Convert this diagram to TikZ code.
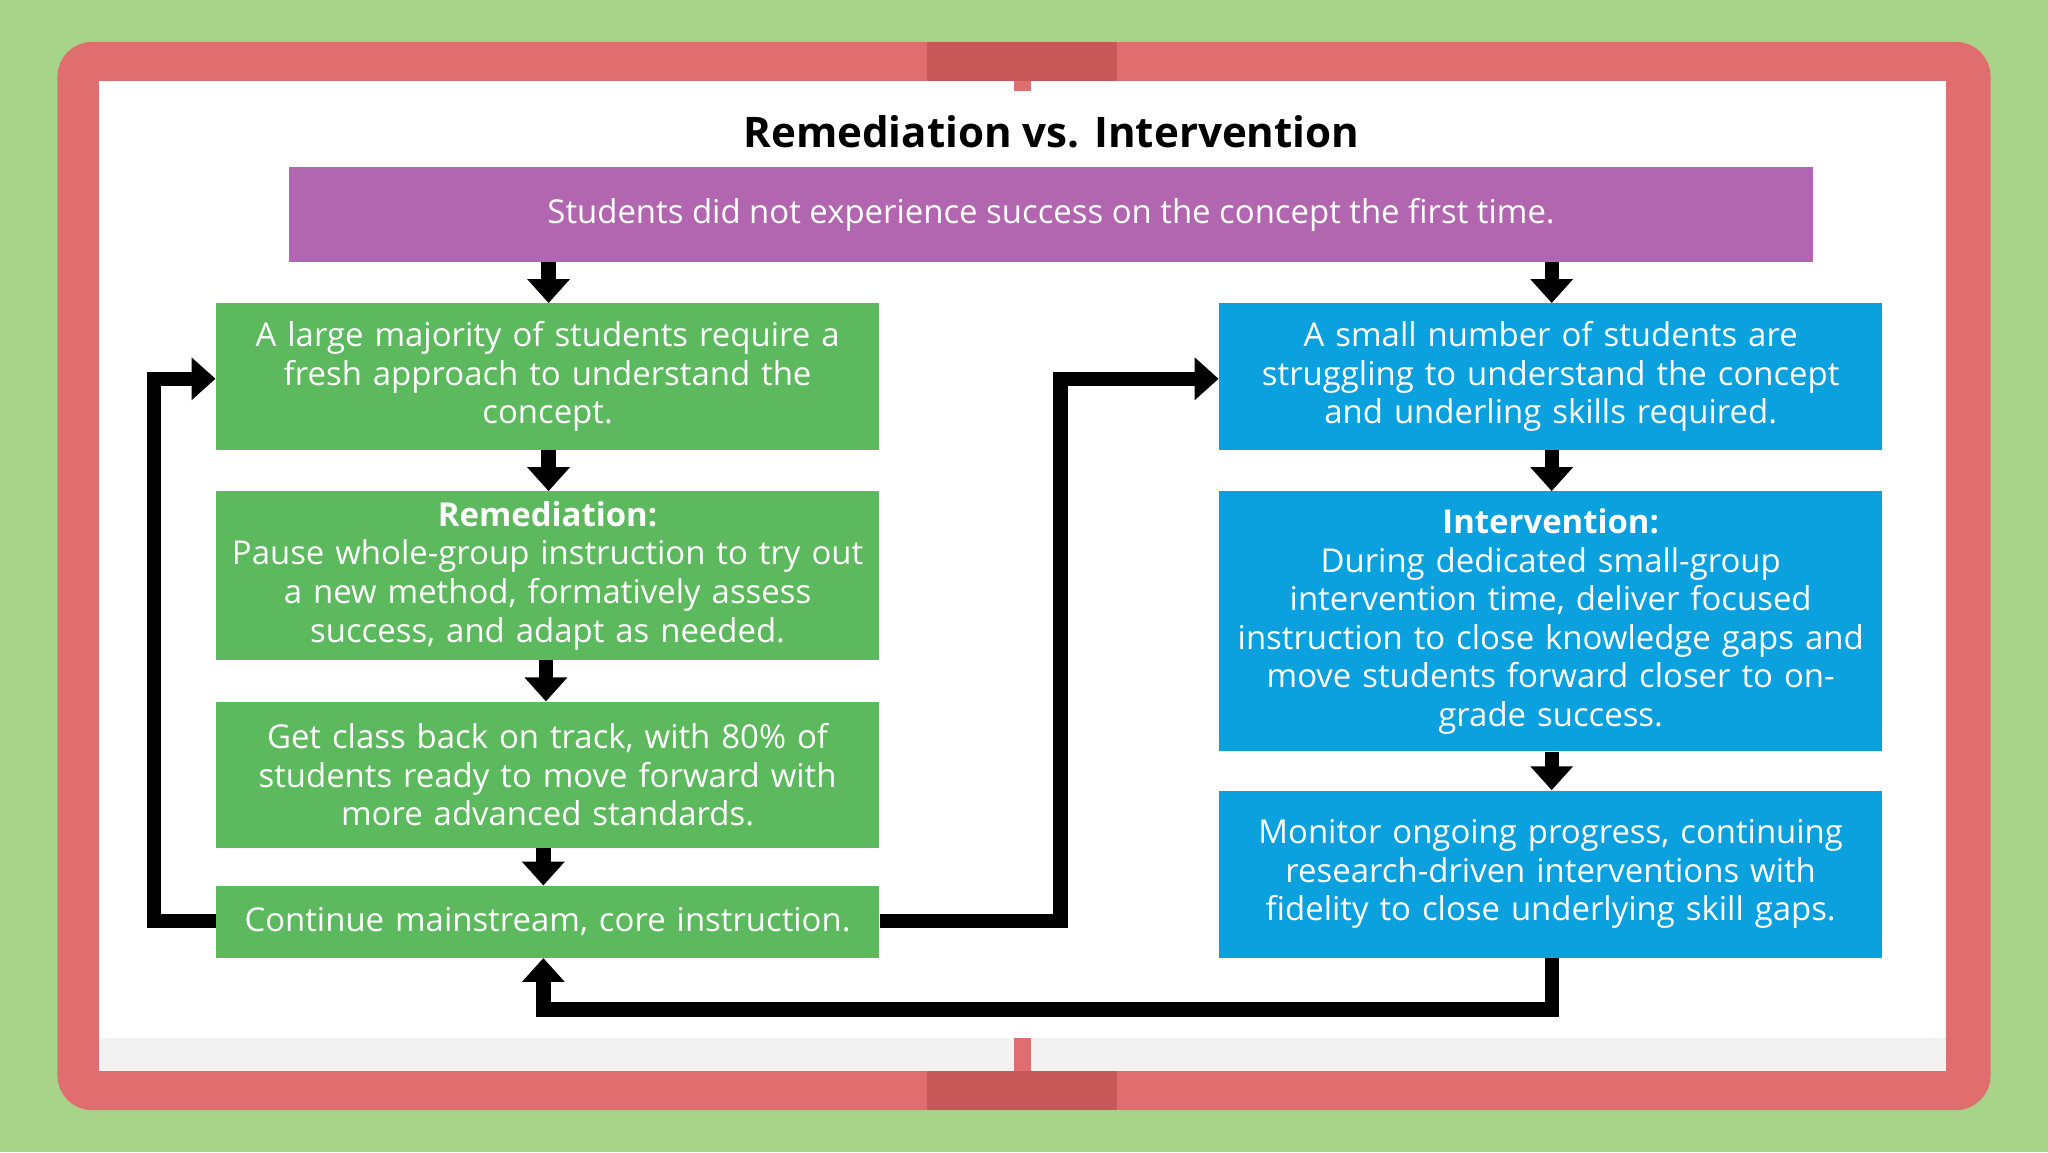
\documentclass[tikz,border=0pt]{standalone}
\usepackage{fontspec}
\setmainfont{Open Sans}
\usetikzlibrary{arrows.meta}
\definecolor{bg}{HTML}{A8D48A}
\definecolor{frame}{HTML}{E06E6E}
\definecolor{tab}{HTML}{C85858}
\definecolor{pur}{HTML}{B366B0}
\definecolor{grn}{HTML}{5DB95D}
\definecolor{blu}{HTML}{0BA0DE}
\begin{document}
\begin{tikzpicture}[x=0.03cm,y=-0.03cm,
 box/.style={anchor=north west,inner sep=0pt,text=white,align=center,font=\fontsize{21.5}{25.2}\selectfont},
 arr/.style={line width=0.33cm,-{Triangle[width=0.95cm,length=0.55cm]}}]
\fill[bg] (0,0) rectangle (1568,882);
\fill[frame,rounded corners=0.8cm] (44,32) rectangle (1524,850);
\fill[tab] (710,32) rectangle (855,62);
\fill[tab] (710,820) rectangle (855,850);
\fill[white] (76,62) rectangle (1490,820);
\fill[black!5] (76,795) rectangle (1490,820);
\fill[frame] (776,62) rectangle (789,70);
\fill[frame] (776,795) rectangle (789,820);
\node (t) at (805,101) {\fontsize{27.5}{30}\selectfont\bfseries Remediation vs. Intervention};
\node[box,fill=pur,minimum width=1167*0.03cm,minimum height=72*0.03cm] (p) at (221,128) {Students did not experience success on the concept the first time.};
\node[box,fill=grn,minimum width=508*0.03cm,minimum height=112*0.03cm,text width=500*0.03cm] (g1) at (165,232) {A large majority of students require a\\ fresh approach to understand the\\ concept.};
\node[box,fill=grn,minimum width=508*0.03cm,minimum height=129*0.03cm,text width=505*0.03cm] (g2) at (165,376) {\textbf{Remediation:}\\Pause whole-group instruction to try out\\ a new method, formatively assess\\ success, and adapt as needed.};
\node[box,fill=grn,minimum width=508*0.03cm,minimum height=112*0.03cm,text width=500*0.03cm] (g3) at (165,537) {Get class back on track, with 80\% of\\ students ready to move forward with\\ more advanced standards.};
\node[box,fill=grn,minimum width=508*0.03cm,minimum height=55*0.03cm,text width=500*0.03cm] (g4) at (165,678) {Continue mainstream, core instruction.};
\node[box,fill=blu,minimum width=508*0.03cm,minimum height=112*0.03cm,text width=500*0.03cm] (b1) at (933,232) {A small number of students are\\ struggling to understand the concept\\ and underling skills required.};
\node[box,fill=blu,minimum width=508*0.03cm,minimum height=199*0.03cm,text width=505*0.03cm] (b2) at (933,376) {\textbf{Intervention:}\\During dedicated small-group\\ intervention time, deliver focused\\ instruction to close knowledge gaps and\\ move students forward closer to on-\\grade success.};
\node[box,fill=blu,minimum width=508*0.03cm,minimum height=128*0.03cm,text width=500*0.03cm] (b3) at (933,605) {Monitor ongoing progress, continuing\\ research-driven interventions with\\ fidelity to close underlying skill gaps.};
\draw[arr] (p.south -| 420,0) -- (g1.north -| 420,0);
\draw[arr] (p.south -| 1188,0) -- (b1.north -| 1188,0);
\draw[arr] (g1.south -| 420,0) -- (g2.north -| 420,0);
\draw[arr] (g2.south -| 418,0) -- (g3.north -| 418,0);
\draw[arr] (g3.south -| 416,0) -- (g4.north -| 416,0);
\draw[arr] (b1.south -| 1188,0) -- (b2.north -| 1188,0);
\draw[arr] (b2.south -| 1188,0) -- (b3.north -| 1188,0);
\draw[arr] (g4.west |- 0,705) -- (118,705) -- (118,290) -- (g1.west |- 0,290);
\draw[arr] (g4.east |- 0,705) -- (812,705) -- (812,290) -- (b1.west |- 0,290);
\draw[arr] (b3.south -| 1188,0) -- (1188,773) -- (416,773) -- (g4.south -| 416,0);
\end{tikzpicture}
\end{document}
